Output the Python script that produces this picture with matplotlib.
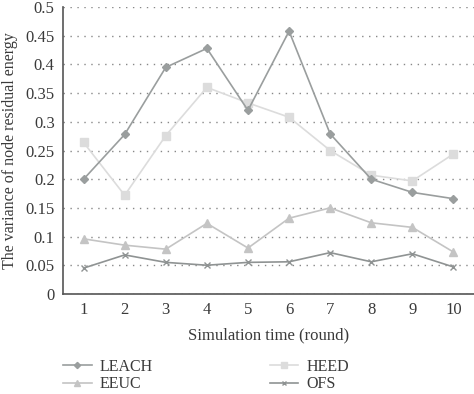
import matplotlib
matplotlib.use("Agg")
import matplotlib.pyplot as plt

rounds = [1, 2, 3, 4, 5, 6, 7, 8, 9, 10]
leach = [0.200, 0.278, 0.395, 0.428, 0.320, 0.458, 0.279, 0.200, 0.177, 0.166]
heed = [0.264, 0.172, 0.276, 0.360, 0.333, 0.308, 0.250, 0.207, 0.197, 0.244]
eeuc = [0.096, 0.085, 0.078, 0.123, 0.080, 0.132, 0.150, 0.124, 0.116, 0.073]
ofs = [0.045, 0.068, 0.055, 0.050, 0.055, 0.056, 0.072, 0.056, 0.070, 0.047]
yticks = [0, 0.05, 0.1, 0.15, 0.2, 0.25, 0.3, 0.35, 0.4, 0.45, 0.5]
ytick_labels = ["0", "0.05", "0.1", "0.15", "0.2", "0.25", "0.3", "0.35", "0.4", "0.45", "0.5"]

plt.rcParams['font.family'] = ['Liberation Serif', 'DejaVu Serif']

fig = plt.figure(figsize=(4.74, 3.94), dpi=100)
ax = fig.add_axes([0.133, 0.254, 0.867, 0.728])

ax.plot(rounds, leach, color='#9a9e9e', marker='D', markersize=4.5, lw=1.2, label='LEACH', zorder=4)
ax.plot(rounds, heed, color='#dcdcdc', marker='s', markersize=6, lw=1.2, label='HEED', zorder=3)
ax.plot(rounds, eeuc, color='#c4c4c4', marker='^', markersize=6, lw=1.2, label='EEUC', zorder=3)
ax.plot(rounds, ofs, color='#8f9393', marker='x', markersize=5, mew=1.0, lw=1.2, label='OFS', zorder=4)

ax.set_xlim(0.5, 10.5)
ax.set_ylim(0, 0.5)
ax.set_xticks(rounds)
ax.set_yticks(yticks)
ax.set_yticklabels(ytick_labels)
ax.tick_params(axis='both', length=0, labelsize=12, colors='#3a3a3a', pad=6)
ax.yaxis.grid(True, linestyle=(0, (1, 4)), color='#888888', lw=1.0)
ax.set_axisbelow(True)
for s in ['top', 'right']:
    ax.spines[s].set_visible(False)
ax.spines['left'].set_color('#555555')
ax.spines['bottom'].set_color('#555555')
ax.spines['left'].set_linewidth(1.2)
ax.spines['bottom'].set_linewidth(1.2)

ax.set_xlabel('Simulation time (round)', fontsize=12, color='#3a3a3a')
ax.xaxis.set_label_coords(0.5, -0.118)
ax.set_ylabel('The variance of node residual energy', fontsize=11.5, color='#3a3a3a')
ax.yaxis.set_label_coords(-0.11, 0.5)

handles, labels = ax.get_legend_handles_labels()
fig.legend([handles[0], handles[2], handles[1], handles[3]],
           ['LEACH', 'EEUC', 'HEED', 'OFS'],
           loc='upper left', bbox_to_anchor=(0.133, 0.09), ncol=2, frameon=False,
           borderpad=0, borderaxespad=0,
           fontsize=11.5, handlelength=1.8, handletextpad=0.5, columnspacing=7.3,
           labelspacing=0.1, markerscale=0.7, labelcolor='#3a3a3a')

fig.savefig('out.png', dpi=100)
